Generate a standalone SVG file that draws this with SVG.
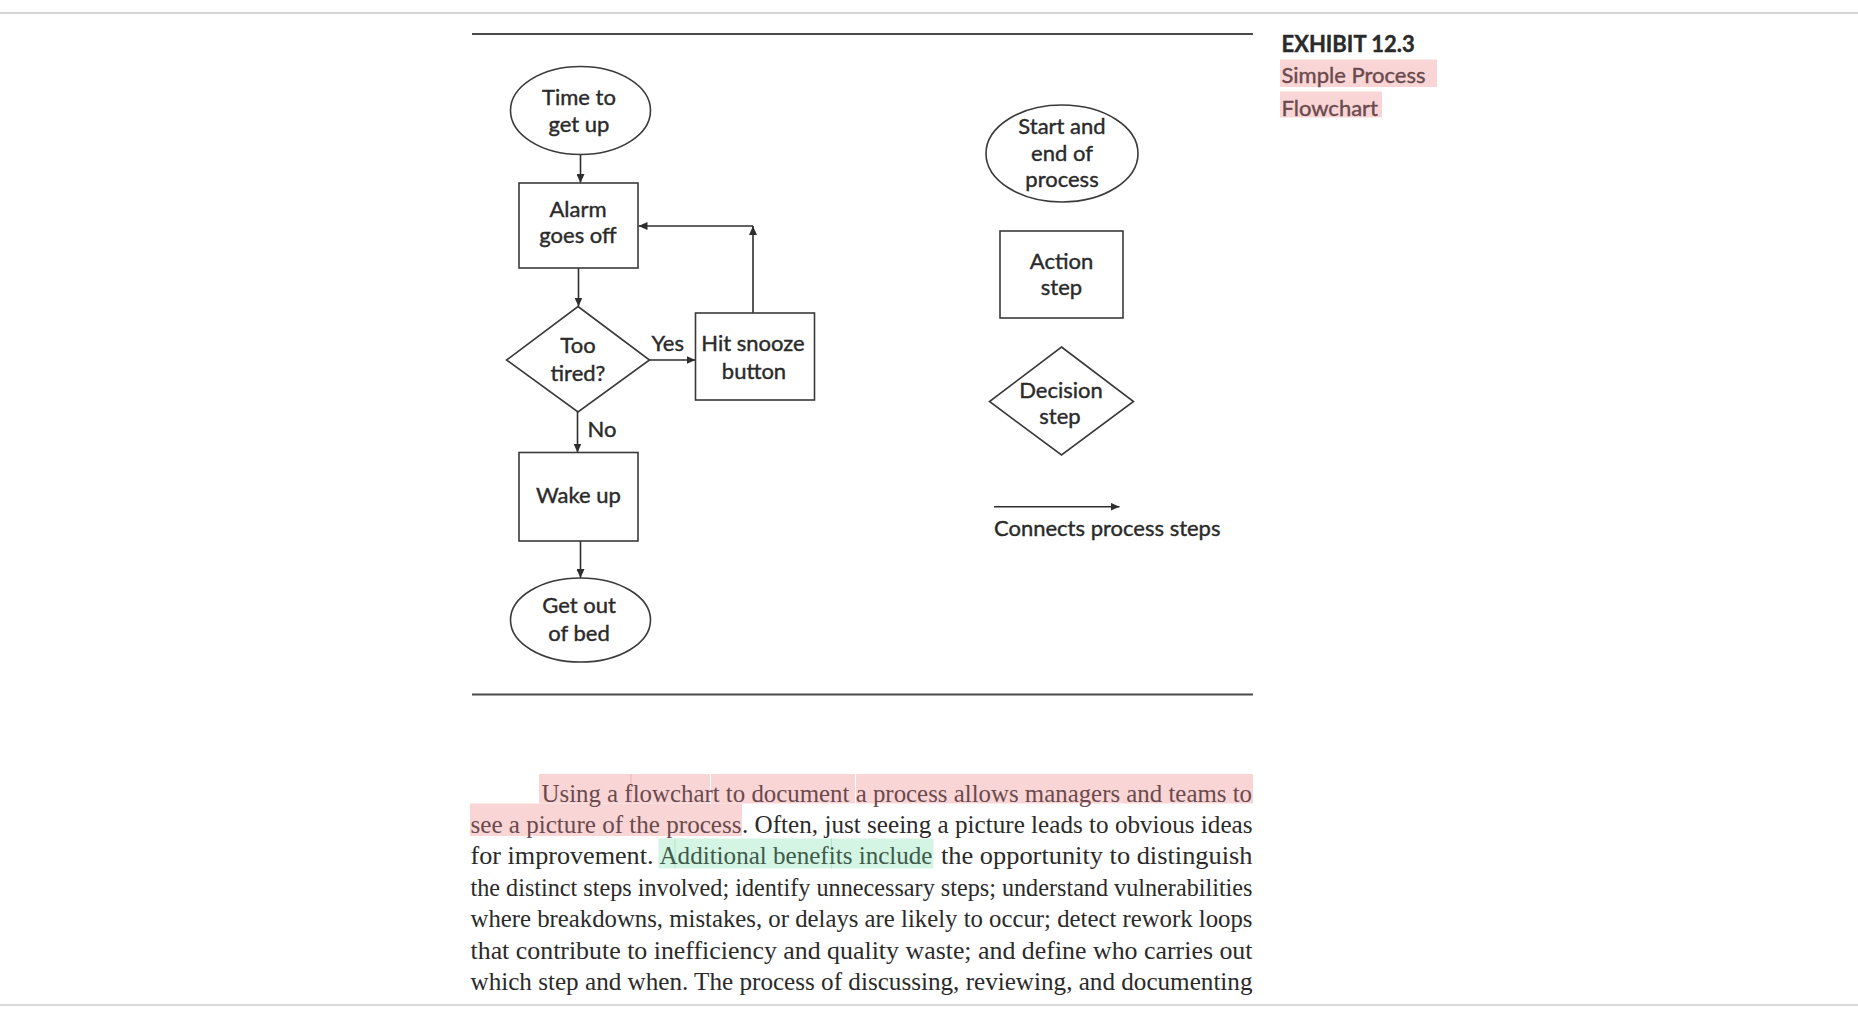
<svg xmlns="http://www.w3.org/2000/svg" width="1858" height="1022" viewBox="0 0 1858 1022">
<defs>
<marker id="ah" markerUnits="userSpaceOnUse" markerWidth="10" markerHeight="8" refX="9" refY="4" orient="auto">
<path d="M0,0 L9,4 L0,8 Z" fill="#2e2e2e"/>
</marker>
<style>
.sh{fill:none;stroke:#3a3a3a;stroke-width:1.6}
.cn{fill:none;stroke:#2e2e2e;stroke-width:1.6;marker-end:url(#ah)}
.t{font-family:Lato,"Noto Sans",sans-serif;font-size:22px;fill:#2a2a2a;stroke:#2a2a2a;stroke-width:0.4;text-anchor:middle}
.l{font-family:Lato,"Noto Sans",sans-serif;font-size:22px;fill:#2a2a2a;stroke:#2a2a2a;stroke-width:0.4}
.b{font-family:"Liberation Serif","Times New Roman",serif;font-size:26px;fill:#2a2a2a}
.hp{fill:#6a4a4e;stroke:#6a4a4e}
.b.hp{stroke:none}
.hg{fill:#3d5a4a}
</style>
</defs>
<rect x="0" y="0" width="1858" height="1022" fill="#ffffff"/>
<line x1="0" y1="13" x2="1858" y2="13" stroke="#d4d4d4" stroke-width="2"/>
<line x1="0" y1="1005" x2="1858" y2="1005" stroke="#d8d8d8" stroke-width="2"/>
<line x1="472" y1="34" x2="1253" y2="34" stroke="#4a4a4a" stroke-width="2"/>
<line x1="472" y1="694.5" x2="1253" y2="694.5" stroke="#4a4a4a" stroke-width="2"/>

<g id="exhibit">
<rect x="1280" y="59.5" width="157" height="27.5" fill="#f9d5d5"/>
<rect x="1280" y="91.5" width="102" height="26" fill="#f9d5d5"/>
<text class="l" x="1281.5" y="51.5" font-weight="bold" stroke-width="0">EXHIBIT 12.3</text>
<text class="l hp" x="1281.5" y="82.5" stroke-width="0.2">Simple Process</text>
<text class="l hp" x="1281.5" y="116" stroke-width="0.2">Flowchart</text>
</g>

<g id="connectors">
<path class="cn" d="M580.5,154.5 V183"/>
<path class="cn" d="M578.5,268 V306.5"/>
<path class="cn" d="M649.5,360 H695.5"/>
<path class="cn" d="M753,313 V226"/>
<path class="cn" d="M753,226 H638.5"/>
<path class="cn" d="M577.5,412 V452.5"/>
<path class="cn" d="M580.5,541 V578"/>
<text class="l" x="651.5" y="351">Yes</text>
<text class="l" x="587.5" y="437">No</text>
</g>

<g id="n-time">
<ellipse class="sh" cx="580.5" cy="110.5" rx="70" ry="44"/>
<text class="t" x="579" y="105">Time to</text>
<text class="t" x="579" y="132">get up</text>
</g>
<g id="n-alarm">
<rect class="sh" x="519" y="183" width="119" height="85"/>
<text class="t" x="578" y="217">Alarm</text>
<text class="t" x="578" y="243">goes off</text>
</g>
<g id="n-tired">
<polygon class="sh" points="578,306.5 649.5,360 578,412 506.5,360"/>
<text class="t" x="578" y="353">Too</text>
<text class="t" x="578" y="381">tired?</text>
</g>
<g id="n-snooze">
<rect class="sh" x="695.5" y="313" width="119" height="87"/>
<text class="t" x="753" y="351">Hit snooze</text>
<text class="t" x="754" y="378.5">button</text>
</g>
<g id="n-wake">
<rect class="sh" x="519" y="452.5" width="119" height="88.5"/>
<text class="t" x="578.5" y="503">Wake up</text>
</g>
<g id="n-bed">
<ellipse class="sh" cx="580.5" cy="620" rx="70" ry="42"/>
<text class="t" x="579" y="612.5">Get out</text>
<text class="t" x="579" y="641">of bed</text>
</g>

<g id="legend-start">
<ellipse class="sh" cx="1062" cy="153.5" rx="76" ry="48.5"/>
<text class="t" x="1062" y="133.5">Start and</text>
<text class="t" x="1062" y="161">end of</text>
<text class="t" x="1062" y="187">process</text>
</g>
<g id="legend-action">
<rect class="sh" x="1000" y="231" width="123" height="87"/>
<text class="t" x="1061.5" y="268.5">Action</text>
<text class="t" x="1061.5" y="295">step</text>
</g>
<g id="legend-decision">
<polygon class="sh" points="1061.5,347 1133.5,401.5 1061.5,455 989.5,401.5"/>
<text class="t" x="1061" y="397.5">Decision</text>
<text class="t" x="1060" y="423.5">step</text>
</g>
<g id="legend-connector">
<path class="cn" d="M994,506.7 H1119.5"/>
<text class="l" x="994" y="536">Connects process steps</text>
</g>

<g id="body-text">
<rect x="539" y="774" width="171" height="29.5" fill="#f9d5d5"/>
<rect x="711" y="774" width="144" height="29.5" fill="#f9d5d5"/>
<rect x="856" y="774" width="397" height="29.5" fill="#f9d5d5"/>
<line x1="631" y1="774" x2="631" y2="803.5" stroke="#eeb4b8" stroke-width="1"/>
<rect x="470" y="803.5" width="272" height="32.5" fill="#f9d5d5"/>
<rect x="658.5" y="838.5" width="275" height="30" fill="#d4f5e4"/>
<line x1="675" y1="838.5" x2="675" y2="868.5" stroke="#b5e6cc" stroke-width="1"/>
<line x1="831.5" y1="838.5" x2="831.5" y2="868.5" stroke="#b5e6cc" stroke-width="1"/>

<text class="b hp" x="541.5" y="801.5" textLength="710.5" lengthAdjust="spacingAndGlyphs">Using a flowchart to document a process allows managers and teams to</text>
<text class="b hp" x="470.5" y="833" textLength="271" lengthAdjust="spacingAndGlyphs">see a picture of the process</text>
<text class="b" x="742" y="833" textLength="510.5" lengthAdjust="spacingAndGlyphs">. Often, just seeing a picture leads to obvious ideas</text>
<text class="b" x="470.5" y="864" textLength="183" lengthAdjust="spacingAndGlyphs">for improvement.</text>
<text class="b hg" x="659.5" y="864" textLength="273" lengthAdjust="spacingAndGlyphs">Additional benefits include</text>
<text class="b" x="941" y="864" textLength="311.5" lengthAdjust="spacingAndGlyphs">the opportunity to distinguish</text>
<text class="b" x="470.5" y="895.5" textLength="782" lengthAdjust="spacingAndGlyphs">the distinct steps involved; identify unnecessary steps; understand vulnerabilities</text>
<text class="b" x="470.5" y="927" textLength="782" lengthAdjust="spacingAndGlyphs">where breakdowns, mistakes, or delays are likely to occur; detect rework loops</text>
<text class="b" x="470.5" y="958.5" textLength="782" lengthAdjust="spacingAndGlyphs">that contribute to inefficiency and quality waste; and define who carries out</text>
<text class="b" x="470.5" y="990" textLength="782" lengthAdjust="spacingAndGlyphs">which step and when. The process of discussing, reviewing, and documenting</text>
</g>
</svg>
